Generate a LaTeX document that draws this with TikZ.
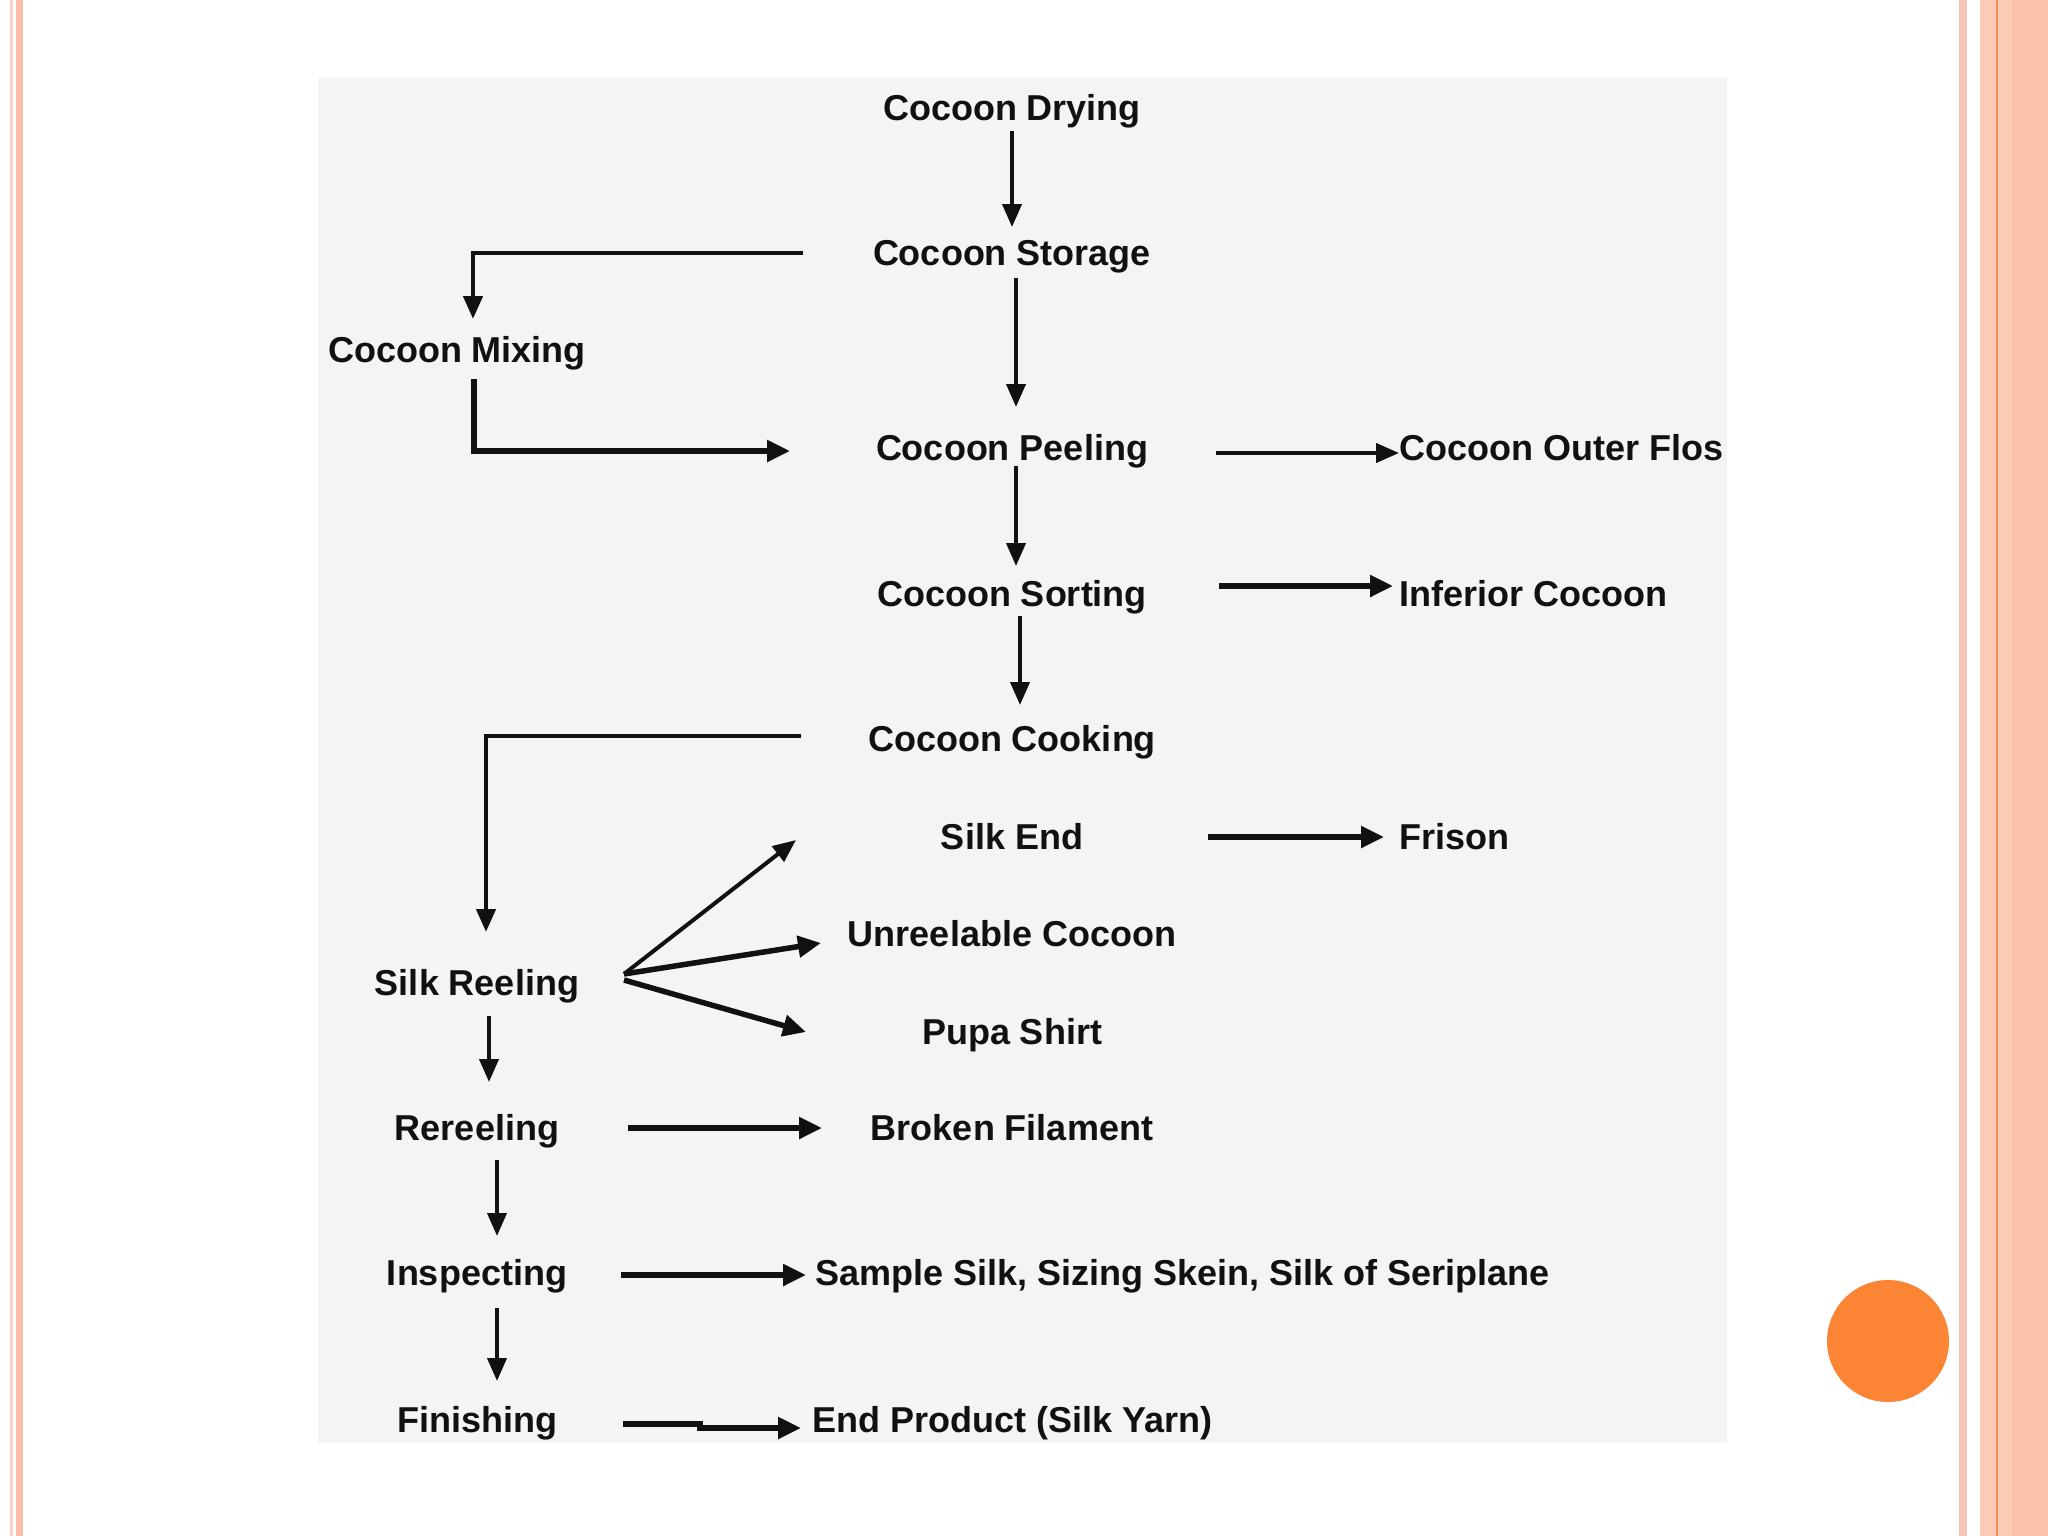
\documentclass[tikz,border=0pt]{standalone}
\usepackage{fontspec}
\setmainfont{Liberation Sans}
\usetikzlibrary{arrows.meta}
\definecolor{panel}{HTML}{F4F4F4}
\definecolor{ink}{HTML}{111111}
\definecolor{bordA}{HTML}{FAD3C6}
\definecolor{bordB}{HTML}{FDBDA8}
\definecolor{bordC}{HTML}{F9C4B8}
\definecolor{bordD}{HTML}{FBCBB5}
\definecolor{bordE}{HTML}{FAC2A8}
\definecolor{bordF}{HTML}{F98B55}
\definecolor{dot}{HTML}{FC8535}
\begin{document}
\begin{tikzpicture}[x=1pt,y=-1pt,
  lbl/.style={font=\bfseries\fontsize{36}{40}\selectfont, text=ink, inner sep=0pt, anchor=base},
  lblw/.style={lbl, anchor=base west},
  thin/.style={draw=ink, line width=4pt, -{Triangle[length=23pt,width=19pt]}},
  thick/.style={draw=ink, line width=5.5pt, -{Triangle[length=23pt,width=21pt]}}]
\useasboundingbox (0,0) rectangle (2048,1536);
\fill[white] (0,0) rectangle (2048,1536);
% borders
\fill[bordA] (10,0) rectangle (13,1536);
\fill[bordB] (16,0) rectangle (23,1536);
\fill[bordC] (1959,0) rectangle (1967,1536);
\fill[bordD] (1980,0) rectangle (2048,1536);
\fill[bordE] (2012,0) rectangle (2048,1536);
\fill[bordF] (1996,0) rectangle (1998,1536);
% panel
\fill[panel] (318,78) rectangle (1727,1443);
% dot
\fill[dot] (1888,1341) circle[radius=61pt];
% labels
\node[lbl] (dry)  at (1012,121)  {Cocoon Drying};
\node[lbl] (sto)  at (1012,265)  {Cocoon Storage};
\node[lbl] (mix)  at (457,362)   {Cocoon Mixing};
\node[lbl] (peel) at (1012,460)  {Cocoon Peeling};
\node[lblw] (flos) at (1399,460) {Cocoon Outer Flos};
\node[lbl] (sort) at (1012,606)  {Cocoon Sorting};
\node[lblw] (inf) at (1399,606)  {Inferior Cocoon};
\node[lbl] (cook) at (1012,751)  {Cocoon Cooking};
\node[lbl] (send) at (1012,849)  {Silk End};
\node[lblw] (fris) at (1399,849) {Frison};
\node[lbl] (unr)  at (1012,946)  {Unreelable Cocoon};
\node[lbl] (reel) at (477,995)   {Silk Reeling};
\node[lbl] (pupa) at (1012,1044) {Pupa Shirt};
\node[lbl] (rer)  at (477,1140)  {Rereeling};
\node[lbl] (brok) at (1012,1140) {Broken Filament};
\node[lbl] (insp) at (477,1285)  {Inspecting};
\node[lblw] (samp) at (815,1285) {Sample Silk, Sizing Skein, Silk of Seriplane};
\node[lbl] (fin)  at (477,1432)  {Finishing};
\node[lblw] (endp) at (812,1432) {End Product (Silk Yarn)};
% connector coordinates
\coordinate (c1a) at (1012,131); \coordinate (c1b) at (1012,227);
\coordinate (c2a) at (1016,278); \coordinate (c2b) at (1016,407);
\coordinate (c3a) at (803,253);  \coordinate (c3k) at (473,253); \coordinate (c3b) at (473,319);
\coordinate (c4a) at (474,379);  \coordinate (c4k) at (474,451); \coordinate (c4b) at (790,451);
\coordinate (c5a) at (1216,453); \coordinate (c5b) at (1399,453);
\coordinate (c6a) at (1016,466); \coordinate (c6b) at (1016,566);
\coordinate (c7a) at (1219,586); \coordinate (c7b) at (1393,586);
\coordinate (c8a) at (1020,616); \coordinate (c8b) at (1020,705);
\coordinate (c9a) at (801,736);  \coordinate (c9k) at (486,736); \coordinate (c9b) at (486,932);
\coordinate (c10a) at (1208,837); \coordinate (c10b) at (1384,837);
\coordinate (fan) at (624,974);
\coordinate (f1) at (796,840); \coordinate (f2) at (821,943); \coordinate (f3) at (806,1032);
\coordinate (c12a) at (489,1016); \coordinate (c12b) at (489,1082);
\coordinate (c13a) at (628,1128); \coordinate (c13b) at (822,1128);
\coordinate (c14a) at (497,1160); \coordinate (c14b) at (497,1236);
\coordinate (c15a) at (621,1275); \coordinate (c15b) at (806,1275);
\coordinate (c16a) at (497,1308); \coordinate (c16b) at (497,1381);
\coordinate (c17a) at (623,1424); \coordinate (c17k) at (700,1424); \coordinate (c17m) at (700,1428); \coordinate (c17b) at (801,1428);
% connectors
\draw[thin] (c1a) -- (c1b);
\draw[thin] (c2a) -- (c2b);
\draw[thin, line width=4.5pt] (c3a) -- (c3k) -- (c3b);
\draw[thick, line join=miter] (c4a) -- (c4k) -- (c4b);
\draw[thin] (c5a) -- (c5b);
\draw[thin] (c6a) -- (c6b);
\draw[thick] (c7a) -- (c7b);
\draw[thin] (c8a) -- (c8b);
\draw[thin, line width=4.5pt] (c9a) -- (c9k) -- (c9b);
\draw[thick] (c10a) -- (c10b);
\draw[thin] (fan) -- (f1);
\draw[thick] (fan) -- (f2);
\draw[thick] ([yshift=-6pt]fan) -- (f3);
\draw[thin] (c12a) -- (c12b);
\draw[thick] (c13a) -- (c13b);
\draw[thin] (c14a) -- (c14b);
\draw[thick] (c15a) -- (c15b);
\draw[thin] (c16a) -- (c16b);
\draw[thick] (c17a) -- (c17k) -- (c17m) -- (c17b);
\end{tikzpicture}
\end{document}
